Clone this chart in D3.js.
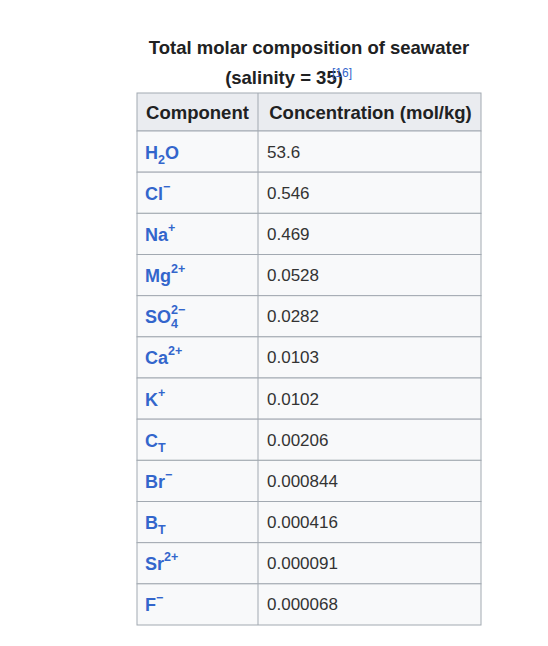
<!DOCTYPE html>
<html><head><meta charset="utf-8">
<script src="https://cdn.jsdelivr.net/npm/d3@7"></script>
<style>body{margin:0;background:#fff;}</style>
</head><body>
<svg id="c" width="548" height="646"></svg>
<script>
const titleLines = ["Total molar composition of seawater", "(salinity = 35)"];
const titleRef = "[16]";
const headers = ["Component", "Concentration (mol/kg)"];
// parts: [text, kind] kind: "" | "sub" | "sup" | "subsup" (text "sub|sup")
const components = [
  [["H",""],["2","sub"],["O",""]],
  [["Cl",""],["−","sup"]],
  [["Na",""],["+","sup"]],
  [["Mg",""],["2+","sup"]],
  [["SO",""],["4|2−","subsup"]],
  [["Ca",""],["2+","sup"]],
  [["K",""],["+","sup"]],
  [["C",""],["T","sub"]],
  [["Br",""],["−","sup"]],
  [["B",""],["T","sub"]],
  [["Sr",""],["2+","sup"]],
  [["F",""],["−","sup"]]
];
const concentrations = ["53.6","0.546","0.469","0.0528","0.0282","0.0103","0.0102","0.00206","0.000844","0.000416","0.000091","0.000068"];

const svg = d3.select("#c");
const font = "'Liberation Sans', Arial, sans-serif";
const x0 = 137, xs = 258, x1 = 481, yHead = 93, yRows = 131, yEnd = 625;
const border = "#a2a9b1";

const titleX = [309, 284];
svg.append("g").selectAll("text").data(titleLines).join("text")
  .attr("x", (d,i)=>titleX[i]).attr("y", (d,i)=>54+i*30).attr("text-anchor","middle")
  .attr("font-family",font).attr("font-weight","bold").attr("font-size",18.5).attr("fill","#202122")
  .text(d=>d);
svg.append("text").attr("x", 332).attr("y", 77).attr("font-family",font).attr("font-size",12)
  .attr("fill","#3366cc").text(titleRef);

const y = d3.scaleBand().domain(d3.range(components.length)).range([yRows, yEnd]);

svg.append("rect").attr("x",x0).attr("y",yHead).attr("width",x1-x0).attr("height",yRows-yHead)
  .attr("fill","#eaecf0").attr("stroke",border);
svg.append("g").selectAll("text").data(headers).join("text")
  .attr("x",(d,i)=>i?(xs+x1)/2+1:(x0+xs)/2).attr("y",yHead+26).attr("text-anchor","middle")
  .attr("font-family",font).attr("font-weight","bold").attr("font-size",18.5).attr("fill","#202122").text(d=>d);

const rows = svg.append("g").selectAll("g").data(components.map((c,i)=>({c, v: concentrations[i], i}))).join("g");
rows.append("rect").attr("x",x0).attr("y",d=>y(d.i)).attr("width",x1-x0).attr("height",y.bandwidth())
  .attr("fill","#f8f9fa").attr("stroke",border);
rows.append("text").attr("x",xs+9).attr("y",d=>y(d.i)+y.bandwidth()/2+6)
  .attr("font-family",font).attr("font-size",17).attr("fill","#333").text(d=>d.v);

rows.each(function(d){
  const g = d3.select(this);
  let x = x0+8;
  const base = y(d.i)+y.bandwidth()/2+7;
  d.c.forEach(([t,k])=>{
    const mk = (s, dy, size)=> g.append("text").attr("x",x).attr("y",base+dy)
      .attr("font-family",font).attr("font-weight","bold").attr("font-size",size).attr("fill","#3366cc").text(s);
    if(k===""){ x += mk(t,0,18).node().getComputedTextLength(); }
    else if(k==="sub"){ x += mk(t,5,12.5).node().getComputedTextLength(); }
    else if(k==="sup"){ x += mk(t,-9,12.5).node().getComputedTextLength(); }
    else { const [a,b]=t.split("|"); const w1=mk(a,5,12.5).node().getComputedTextLength();
      const w2=mk(b,-9,12.5).node().getComputedTextLength(); x+=Math.max(w1,w2); }
  });
});
svg.append("line").attr("x1",xs).attr("x2",xs).attr("y1",yHead).attr("y2",yEnd).attr("stroke",border);
</script>
</body></html>
